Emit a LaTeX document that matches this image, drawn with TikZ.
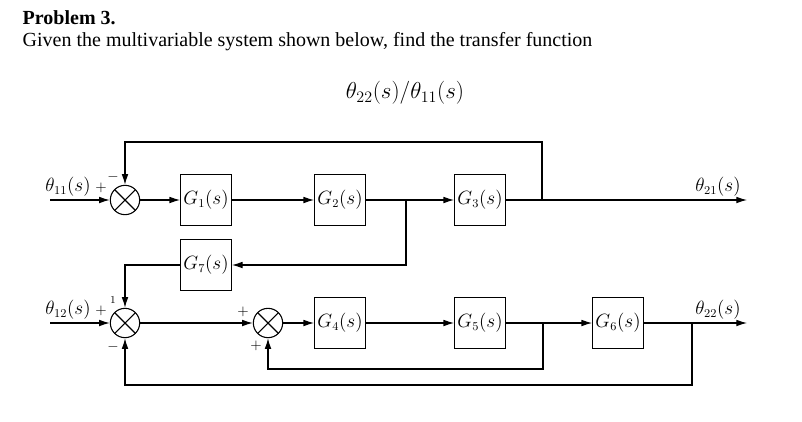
\documentclass[tikz,border=0pt]{standalone}
\usepackage{fontspec}
\setmainfont{Liberation Serif}
\usetikzlibrary{arrows.meta}
\begin{document}
\begin{tikzpicture}[x=0.75pt,y=-0.75pt,
  blk/.style={draw,thick,minimum width=38pt,minimum height=38pt,inner sep=0pt,font=\fontsize{13.5}{15}\selectfont},
  sum/.style={draw,thick,circle,minimum size=22pt,inner sep=0pt,path picture={\draw (path picture bounding box.north west)--(path picture bounding box.south east) (path picture bounding box.north east)--(path picture bounding box.south west);}},
  sig/.style={draw,line width=0.8pt,-{Latex[length=8pt,width=5pt]}},
  sg/.style={font=\fontsize{11}{12}\selectfont,inner sep=0pt},
  lab/.style={font=\fontsize{13.5}{15}\selectfont,inner sep=0pt}]
\useasboundingbox (0,0) rectangle (802,421);
\node[anchor=west,font=\fontsize{15}{18}\selectfont\bfseries] (t1) at (18,18) {Problem 3.};
\node[anchor=west,font=\fontsize{15}{18}\selectfont] (t2) at (18,42) {Given the multivariable system shown below, find the transfer function};
\node[font=\fontsize{16.5}{18}\selectfont] (t3) at (405,93) {$\theta_{22}(s)/\theta_{11}(s)$};

\node[sum] (s1) at (125,200) {};
\node[sum] (s2) at (125,323) {};
\node[sum] (s3) at (268,323) {};
\node[blk] (g1) at (206,200) {$G_1(s)$};
\node[blk] (g2) at (340,200) {$G_2(s)$};
\node[blk] (g3) at (480,200) {$G_3(s)$};
\node[blk] (g7) at (206,265) {$G_7(s)$};
\node[blk] (g4) at (340,323) {$G_4(s)$};
\node[blk] (g5) at (480,323) {$G_5(s)$};
\node[blk] (g6) at (618,323) {$G_6(s)$};

\coordinate (i1) at (50,200);
\coordinate (i2) at (50,323);
\coordinate (o1) at (747,200);
\coordinate (o2) at (747,323);
\coordinate (b1) at (542,200);
\coordinate (b2) at (406,200);
\coordinate (b3) at (543,323);
\coordinate (b4) at (692,323);

\path[sig] (i1) -- (s1);
\path[sig] (s1) -- (g1);
\path[sig] (g1) -- (g2);
\path[sig] (g2) -- (g3);
\path[sig] (g3) -- (o1);
\path[sig] (b1) -- (542,142) -| (s1);
\path[sig] (b2) -- (406,265) -- (g7);
\path[sig] (g7) -| (s2);
\path[sig] (i2) -- (s2);
\path[sig] (s2) -- (s3);
\path[sig] (s3) -- (g4);
\path[sig] (g4) -- (g5);
\path[sig] (g5) -- (g6);
\path[sig] (g6) -- (o2);
\path[sig] (b3) -- (543,369) -| (s3);
\path[sig] (b4) -- (692,385) -| (s2);

\node[lab] (l1) at (68,187) {$\theta_{11}(s)$};
\node[lab] (l2) at (68,310) {$\theta_{12}(s)$};
\node[lab] (l3) at (718,187) {$\theta_{21}(s)$};
\node[lab] (l4) at (718,310) {$\theta_{22}(s)$};
\node[sg] (p1) at (101,188) {$+$};
\node[sg] (m1) at (113,177) {$-$};
\node[sg] (p2) at (101,311) {$+$};
\node[sg] (p3) at (113,300) {$\scriptstyle 1$};
\node[sg] (m2) at (113,347) {$-$};
\node[sg] (p4) at (243,312) {$+$};
\node[sg] (p5) at (256,346) {$+$};
\end{tikzpicture}
\end{document}
